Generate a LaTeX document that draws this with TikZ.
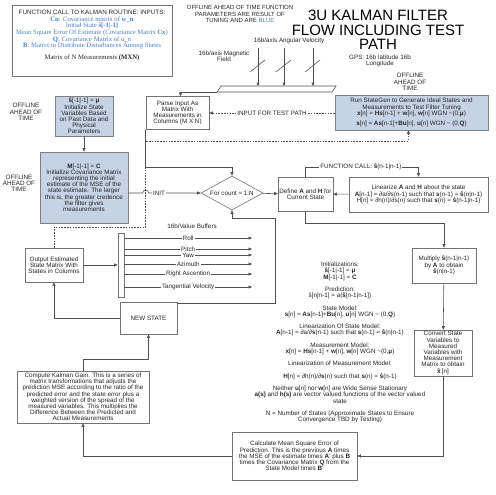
\documentclass[tikz,border=0pt]{standalone}
\usepackage{fontspec}
\setmainfont{Liberation Sans}
\newfontfamily\serf{Liberation Serif}
\usetikzlibrary{arrows.meta,shapes.geometric,calc}
\definecolor{boxblue}{HTML}{C5D3E6}
\definecolor{txtblue}{HTML}{4F7FC7}
\definecolor{lncol}{HTML}{505050}
\begin{document}
\begin{tikzpicture}[x=1pt,y=-1pt,
  every node/.style={font=\fontsize{6.3}{6.2}\selectfont, text=black!85, inner sep=0pt, align=center},
  box/.style={draw=black!55, line width=0.6pt, fill=white},
  bbox/.style={draw=black!50, line width=0.6pt, fill=boxblue},
  ln/.style={draw=lncol, line width=0.55pt},
  tip/.style={-{Triangle[length=3.5pt,width=3pt]}},
  arr/.style={ln, tip},
  dsh/.style={ln, dash pattern=on 1.6pt off 1.2pt},
  lab/.style={fill=white, inner xsep=1pt, inner ysep=0.5pt},
]
\useasboundingbox (0,0) rectangle (495,495);
\fill[white] (0,0) rectangle (495,495);

% ---- inputs box
\node[box, minimum width=160, minimum height=71, anchor=north west] (inp) at (12,5) {};
\node[font=\fontsize{6.3}{6.3}\selectfont] (inpT) at (92,12) {FUNCTION CALL TO KALMAN ROUTINE: INPUTS:};
\node[font=\serf\fontsize{6.7}{6}\selectfont, text=txtblue] (inpB) at (92,33)
  {\textbf{Cn}: Covariance matrix of \textbf{w\_n}\\Initial State \textbf{ŝ[-1|-1]}\\Mean Square Error Of Estimate (Covariance Matrix \textbf{Cx})\\\textbf{Q}: Covariance Matrix of u\_n\\\textbf{B}: Matrix to Distribute Disturbances Among States};
\node[font=\serf\fontsize{6.7}{6}\selectfont] (inpM) at (92,58) {Matrix of N Measurements \textbf{(MXN)}};

% ---- header texts
\node[font=\fontsize{6}{6.8}\selectfont] (offT) at (240,14) {OFFLINE AHEAD OF TIME FUNCTION\\PARAMETERS ARE RESULT OF\\TUNING AND ARE \textcolor{txtblue}{BLUE}};
\node[font=\fontsize{15}{14.5}\selectfont, text=black] (title) at (378,30) {3U KALMAN FILTER\\FLOW INCLUDING TEST\\PATH};
\node (magL) at (224,56) {16b/axis Magnetic\\Field};
\node (angL) at (289,41) {16b/axis Angular Velocity};
\node (gpsL) at (380,61) {GPS: 16b latitude 16b\\Longitude};

% ---- input bus
\coordinate (in1) at (258,48);
\coordinate (in2) at (284,48);
\coordinate (in3) at (313,48);
\coordinate (busTL) at (221,86);
\coordinate (busTR) at (336,86);
\coordinate (busBL) at (217,92);
\coordinate (busBR) at (332,92);
\draw[ln] (busBL) -- (busTL) -- (busTR) -- (busBR) -- cycle;
\foreach \c in {in1,in2,in3}{
  \draw[arr] (\c) -- (\c |- busTL);
  \draw[ln] ($(\c)+(-8,24)$) -- ($(\c)+(7,12)$);
}

% ---- parse + stategen
\node[box, minimum width=63, minimum height=33] (parse) at (177.5,113) {Parse Input As\\Matrix With\\Measurements in\\Columns (M X N)};
\draw[arr] (busBL) -| ([xshift=3pt]parse.north);
\node[bbox, minimum width=153, minimum height=35] (sgen) at (411.5,112.5)
  {Run StateGen to Generate Ideal States and\\Measurements to Test Filter Tuning\\\textbf{x}[n] = \textbf{Hs}[n-1] + \textbf{w}[n], \textbf{w}[n] WGN \textasciitilde(0,\textbf{μ})\\[4pt]\textbf{s}[n] = \textbf{As}[n-1]+\textbf{Bu}[n], \textbf{u}[n] WGN \textasciitilde{} (0,\textbf{Q})};
\draw[dsh, tip] (sgen.west |- parse.east) -- (parse.east) node[midway, lab] {INPUT FOR TEST PATH};
\node (offR) at (410,82) {OFFLINE\\AHEAD OF\\TIME};

% ---- init boxes
\node[bbox, minimum width=58, minimum height=40] (b1) at (84,116) {\textbf{ŝ}[-1|-1] = \textbf{μ}\\Initialize State\\Variables Based\\on Past Data and\\Physical\\Parameters};
\node (offL1) at (26,112) {OFFLINE\\AHEAD OF\\TIME};
\node[bbox, minimum width=88, minimum height=71] (b2) at (84,187.5) {\textbf{M}[-1|-1] = \textbf{C}\\Initialize Covariance Matrix\\representing the initial\\estimate of the MSE of the\\state estimate. The larger\\this is, the greater credence\\the filter gives\\measurements};
\node (offL2) at (19,183) {OFFLINE\\AHEAD OF\\TIME};
\draw[arr] (b1) -- (b2);

% ---- loop
\node[draw=black!55, line width=0.6pt, diamond, aspect=1.8, minimum width=62, minimum height=34] (dia) at (232,193) {For count = 1:N};
\node[box, minimum width=55, minimum height=34] (def) at (305.5,194) {Define \textbf{A} and \textbf{H} for\\Current State};
\node[box, minimum width=139, minimum height=35] (lin) at (418.5,194.5) {Linearize \textbf{A} and \textbf{H} about the state\\\textbf{A}[n-1] = ∂a/∂s(n-1) such that \textbf{s}(n-1) = \textbf{ŝ}(n|n-1)\\H[n] = ∂h(n)/∂s(n) such that \textbf{s}(n) = \textbf{ŝ}(n-1|n-1)};
\draw[arr] (dia) -- (def);
\draw[arr] (lin) -- (def);
\coordinate (fc) at (0,167);
\draw[arr] (def.north) -- (def.north |- fc) -- (lin.north |- fc) node[pos=0.49, lab] {FUNCTION CALL: \textbf{ŝ}(n-1|n-1)} -- (lin.north);

\node[box, minimum width=64, minimum height=35] (mult) at (444,265.5) {Multiply \textbf{ŝ}(n-1|n-1)\\by \textbf{A} to obtain\\\textbf{ŝ}(n|n-1)};
\draw[arr] (def.south) -- ++(0,12) -| (mult.north);
\node[box, minimum width=58, minimum height=46] (conv) at (443,353) {Convert State\\Variables to\\Measured\\Variables with\\Measurement\\Matrix to obtain\\\textbf{\^{x}}[n]};
\draw[arr] (mult) -- (conv);
\node[box, minimum width=125, minimum height=48] (calc) at (294.5,456) {Calculate Mean Square Error of\\Prediction. This is the previous \textbf{A} times\\the MSE of the estimate times \textbf{A}' plus \textbf{B}\\times the Covariance Matrix \textbf{Q} from the\\State Model times \textbf{B}'};
\draw[arr] (conv.south) |- (calc.east);
\node[box, minimum width=132, minimum height=52] (kal) at (83,397) {Compute Kalman Gain. This is a series of\\matrix transformations that adjusts the\\prediction MSE according to the ratio of the\\predicted error and the state error plus a\\weighted version of the spread of the\\measured variables. This multiplies the\\Difference Between the Predicted and\\Actual Measurements};
\draw[arr] (calc.west) -| (kal.south);
\node[box, minimum width=57, minimum height=32] (nst) at (148.5,318) {NEW STATE};
\draw[arr] (kal.north) -- ++(0,-11) -| (nst.south);
\node[box, minimum width=58, minimum height=34] (outb) at (54,265) {Output Estimated\\State Matrix With\\States in Columns};
\draw[arr] (nst.west) -| (outb.south);
\node[box, minimum width=6, minimum height=64] (bar) at (121,265) {};
\draw[arr] (outb.east) -- (outb.east -| bar.west);
\coordinate (lp) at (275,218);
\draw[arr] ([yshift=-2pt]nst.north east) -| (lp) -| (dia.south);

% ---- buffers
\node (bufH) at (192,226) {16b/Value Buffers};
\coordinate (bufE) at (252,0);
\foreach \y/\t in {238/Roll,249/Pitch,255/Yaw,264/Azimuth,274/Right Ascention,287/Tangential Velocity}{
  \draw[arr] (bar.east |- 0,\y) -- (bufE |- 0,\y) node[midway, lab] {\t};
}

% ---- test path feedback (dashed) with hop over INIT
\coordinate (dA) at (parse.west |- 0,227);
\coordinate (dB) at (parse.west |- 0,141);
\draw[dsh, tip] (outb.north) |- (dA) -- (dB) -| ([xshift=-3pt]sgen.south);
% parse -> loop
\draw[arr] (parse.south west) |- (dia.north |- fc) -- (dia.north);
\coordinate (hp) at (dA |- dia.west);
\draw[arr] (b2.east |- dia.west) -- ([xshift=-3pt]hp) arc[start angle=180, end angle=0, radius=3pt] -- (dia.west) node[pos=0.2, lab] {INIT};

% ---- notes
\node[anchor=north] (notes) at (340,262) {Initializations:\\\textbf{ŝ}[-1|-1] = \textbf{μ}\\\textbf{M}[-1|-1] = \textbf{C}\\[6.2pt]
Prediction:\\ŝ[n|n-1] = a(\textbf{ŝ}[n-1|n-1])\\[6.2pt]
State Model:\\\textbf{s}[n] = \textbf{As}[n-1]+\textbf{Bu}[n], \textbf{u}[n] WGN \textasciitilde{} (0,\textbf{Q})\\[6.2pt]
Linearization Of State Model:\\\textbf{A}[n-1] = ∂a/∂\textbf{s}(n-1) such that \textbf{s}(n-1) = \textbf{ŝ}(n|n-1)\\[6.2pt]
Measurement Model:\\\textbf{x}[n] = \textbf{Hs}[n-1] + \textbf{w}[n], \textbf{w}[n] WGN \textasciitilde(0,\textbf{μ})\\[6.2pt]
Linearization of Measurement Model:\\[6.2pt]
\textbf{H}[n] = ∂h(n)/∂\textbf{s}(n) such that \textbf{s}(n) = \textbf{ŝ}(n-1)\\[6.2pt]
Neither \textbf{u}[n] nor \textbf{w}[n] are Wide Sense Stationary\\\textbf{a(s)} and \textbf{h(s)} are vector valued functions of the vector valued\\state\\[6.2pt]
N = Number of States (Approximate States to Ensure\\Convergence TBD by Testing)};
\end{tikzpicture}
\end{document}
